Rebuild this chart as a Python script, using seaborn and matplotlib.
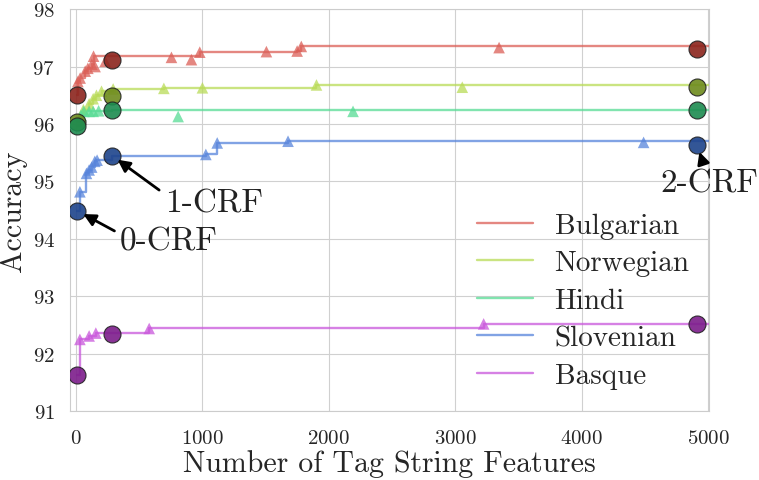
import numpy as np
import seaborn as sns
import matplotlib.pyplot as plt

sns.set_style("whitegrid")
plt.rcParams.update({
    'font.family': ['cmr10', 'DejaVu Serif'],
    'mathtext.fontset': 'cm',
    'axes.formatter.use_mathtext': True,
    'axes.edgecolor': '#cccccc',
    'grid.color': '#d0d0d0',
})

languages = ["Bulgarian", "Norwegian", "Hindi", "Slovenian", "Basque"]

# feature counts of the 0-, 1- and 2-CRF models
crf_features = [10, 285, 4914]
crf_labels = ["0-CRF", "1-CRF", "2-CRF"]

# accuracy of the CRF models (big circles)
crf_acc = {
    "Bulgarian": [96.51, 97.11, 97.31],
    "Norwegian": [96.03, 96.48, 96.64],
    "Hindi":     [95.96, 96.25, 96.24],
    "Slovenian": [94.49, 95.45, 95.63],
    "Basque":    [91.63, 92.35, 92.51],
}

# tag string feature runs (triangles)
tri_features = {
    "Bulgarian": [16, 34, 74, 95, 126, 140, 152, 232, 756, 914, 980, 1507, 1750, 1783, 3347],
    "Norwegian": [60, 105, 137, 163, 203, 295, 696, 1001, 1903, 3056],
    "Hindi":     [40, 63, 105, 137, 180, 809, 2192],
    "Slovenian": [32, 84, 105, 125, 150, 168, 1028, 1118, 1678, 4490],
    "Basque":    [32, 105, 158, 580, 3225],
}
tri_acc = {
    "Bulgarian": [96.74, 96.80, 96.92, 96.97, 97.04, 97.18, 97.00, 97.09, 97.16, 97.12, 97.25, 97.26, 97.27, 97.35, 97.33],
    "Norwegian": [96.25, 96.35, 96.44, 96.50, 96.57, 96.61, 96.62, 96.63, 96.68, 96.64],
    "Hindi":     [96.15, 96.22, 96.22, 96.22, 96.23, 96.13, 96.22],
    "Slovenian": [94.82, 95.14, 95.20, 95.25, 95.35, 95.37, 95.47, 95.67, 95.70, 95.68],
    "Basque":    [92.25, 92.31, 92.36, 92.44, 92.52],
}

light = sns.hls_palette(5)
dark = sns.hls_palette(5, l=0.33)

fig = plt.figure(figsize=(7.59, 4.81), dpi=100)
ax = fig.add_axes([0.0916, 0.143, 0.843, 0.836])
x_max = 5010

handles = []
for i, lang in enumerate(languages):
    xs = np.array(tri_features[lang] + crf_features, dtype=float)
    ys = np.array(tri_acc[lang] + crf_acc[lang])
    order = np.argsort(xs)
    xs, ys = xs[order], ys[order]
    # best accuracy so far, drawn as a step line
    best = np.maximum.accumulate(ys)
    xs_line = np.append(xs, x_max)
    best_line = np.append(best, best[-1])
    line, = ax.plot(xs_line, best_line, drawstyle='steps-post', color=light[i],
                    lw=1.7, alpha=0.75, label=lang, zorder=2)
    handles.append(line)
    sns.scatterplot(x=tri_features[lang], y=tri_acc[lang], marker='^', s=70,
                    color=light[i], alpha=0.75, edgecolor='none', legend=False,
                    ax=ax, zorder=3)
    sns.scatterplot(x=crf_features, y=crf_acc[lang], marker='o', s=150,
                    color=dark[i], alpha=0.9, edgecolor='#222222', linewidth=0.8,
                    legend=False, ax=ax, zorder=4)

# annotations for the Slovenian CRF models
ann_offsets = [(31, -22), (38, -34), (9, -27)]
ann_ha = ['left', 'left', 'center']
ann_rel = [(0.0, 0.75), (0.0, 0.8), (0.45, 1.0)]
for j, lab in enumerate(crf_labels):
    ax.annotate(lab, xy=(crf_features[j], crf_acc["Slovenian"][j]),
                xytext=ann_offsets[j], textcoords='offset points',
                ha=ann_ha[j], va='center', fontsize=24, color='#222222',
                annotation_clip=False, zorder=6,
                arrowprops=dict(arrowstyle='-|>', color='black', lw=2,
                                mutation_scale=18, relpos=ann_rel[j],
                                shrinkA=2, shrinkB=5))

ax.set_xlim(-50, x_max)
ax.set_ylim(91, 98)
ax.set_xticks([0, 1000, 2000, 3000, 4000, 5000])
ax.set_yticks(range(91, 99))
ax.tick_params(labelsize=15, pad=7)
ax.tick_params(axis='x', pad=9)
ax.set_xlabel("Number of Tag String Features", fontsize=21.5, labelpad=2)
ax.set_ylabel("Accuracy", fontsize=21.5, labelpad=4)
for s in ax.spines.values():
    s.set_color('#cccccc')

ax.legend(handles=handles, loc='lower right', frameon=False, fontsize=21,
          handlelength=1.9, handletextpad=0.75, labelspacing=0.38,
          bbox_to_anchor=(1.01, -0.01))

plt.savefig("out.png", dpi=100)
